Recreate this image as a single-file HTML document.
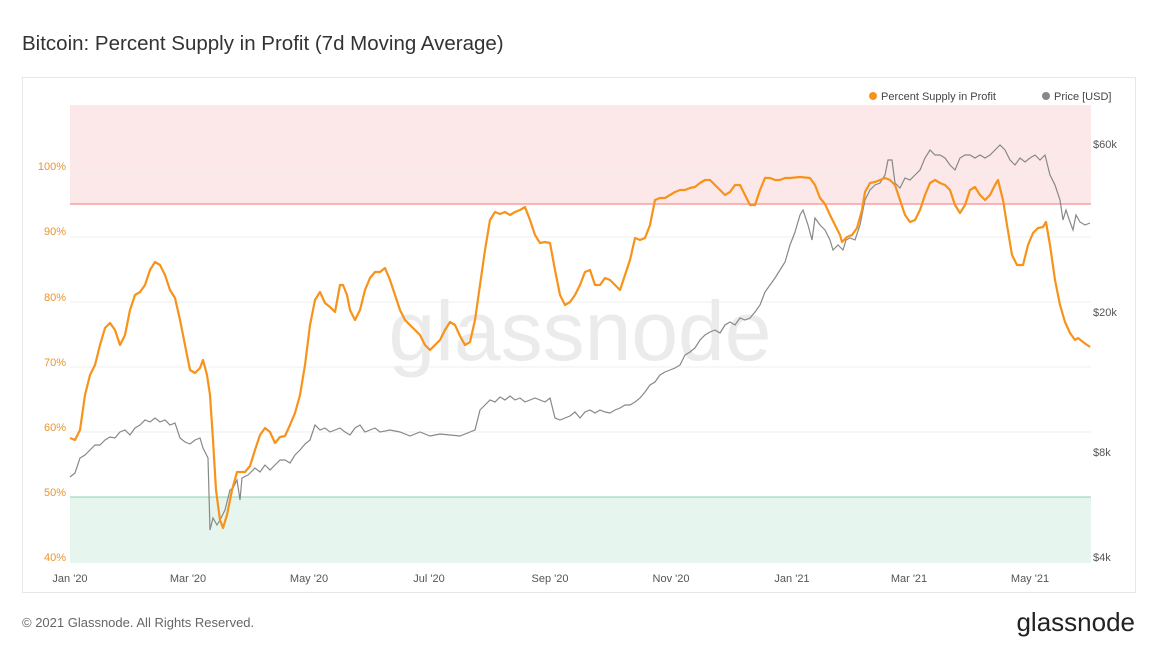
<!DOCTYPE html>
<html><head><meta charset="utf-8"><style>
body{margin:0;background:#fff;font-family:"Liberation Sans",sans-serif;}
</style></head><body>
<svg width="1159" height="652" xmlns="http://www.w3.org/2000/svg" font-family="Liberation Sans, sans-serif">
<rect width="1159" height="652" fill="#fff"/>
<text x="22" y="50" font-size="20.5" fill="#333">Bitcoin: Percent Supply in Profit (7d Moving Average)</text>
<rect x="22.5" y="77.5" width="1113" height="515" fill="#fff" stroke="#e6e6e6"/>
<rect x="70" y="105" width="1021" height="99" fill="#fce8e8"/>
<line x1="70" y1="204" x2="1091" y2="204" stroke="#f5a0a0" stroke-width="1.5"/>
<rect x="70" y="497" width="1021" height="66" fill="#e6f6ef"/>
<line x1="70" y1="497" x2="1091" y2="497" stroke="#8fd3b2" stroke-width="1"/>
<g stroke="#efefef" stroke-width="1">
<line x1="70" y1="172" x2="1091" y2="172"/><line x1="70" y1="237" x2="1091" y2="237"/>
<line x1="70" y1="302" x2="1091" y2="302"/><line x1="70" y1="367" x2="1091" y2="367"/>
<line x1="70" y1="432" x2="1091" y2="432"/>
</g>
<text x="580" y="360" font-size="84" fill="#ebebeb" text-anchor="middle">glassnode</text>
<g font-size="11" fill="#e8942f" text-anchor="end">
<text x="66" y="170">100%</text><text x="66" y="235">90%</text><text x="66" y="301">80%</text>
<text x="66" y="366">70%</text><text x="66" y="431">60%</text><text x="66" y="496">50%</text><text x="66" y="561">40%</text>
</g>
<g font-size="11" fill="#555">
<text x="1093" y="148">$60k</text><text x="1093" y="316">$20k</text><text x="1093" y="456">$8k</text><text x="1093" y="561">$4k</text>
</g>
<g font-size="11" fill="#555" text-anchor="middle">
<text x="70" y="582">Jan '20</text><text x="188" y="582">Mar '20</text><text x="309" y="582">May '20</text>
<text x="429" y="582">Jul '20</text><text x="550" y="582">Sep '20</text><text x="671" y="582">Nov '20</text>
<text x="792" y="582">Jan '21</text><text x="909" y="582">Mar '21</text><text x="1030" y="582">May '21</text>
</g>
<circle cx="873" cy="96" r="4" fill="#f7931a"/><text x="881" y="100" font-size="11" fill="#444">Percent Supply in Profit</text>
<circle cx="1046" cy="96" r="4" fill="#888"/><text x="1054" y="100" font-size="11" fill="#444">Price [USD]</text>
<polyline fill="none" stroke="#888" stroke-width="1.2" points="70,477 75,473 80,458 85,455 90,450 95,445 100,445 105,440 110,437 115,438 120,432 125,430 130,435 135,428 140,425 145,420 150,422 155,418 160,422 165,420 170,425 175,423 180,438 185,442 190,444 195,440 200,438 203,448 208,458 210,530 213,518 217,525 220,520 225,510 230,490 233,488 237,480 240,500 242,478 248,475 255,468 260,472 265,465 270,470 275,465 280,460 285,460 290,463 295,455 300,450 305,444 310,440 315,425 320,430 325,428 330,432 335,430 340,428 345,432 350,435 355,428 360,425 365,432 370,430 375,428 380,432 390,430 400,432 410,436 420,432 430,436 440,434 450,435 460,436 470,432 475,430 480,410 485,405 490,400 495,402 500,397 505,400 510,396 515,400 520,398 525,402 530,400 535,398 545,402 550,398 555,418 560,420 565,418 570,416 575,412 580,418 585,412 590,410 595,413 600,410 605,412 610,413 615,410 620,408 625,405 630,405 635,402 640,398 645,392 650,385 655,382 660,375 665,372 670,370 675,368 680,365 685,355 690,352 695,348 700,340 705,335 710,332 715,330 720,333 725,325 730,322 735,325 740,318 745,320 750,318 755,312 760,305 765,292 770,285 775,278 780,270 785,262 790,245 795,232 800,215 803,210 808,225 812,240 815,218 820,225 825,230 830,240 833,250 838,245 843,250 846,240 850,238 855,240 860,225 865,200 870,190 875,185 880,183 885,175 888,160 892,160 895,183 900,188 905,178 910,180 915,175 920,170 925,158 930,150 935,155 940,155 945,158 950,165 955,170 960,158 965,155 970,155 975,158 980,155 985,158 990,155 995,150 1000,145 1005,150 1010,160 1015,165 1020,158 1025,162 1030,158 1035,155 1040,160 1045,155 1050,175 1055,185 1060,200 1063,220 1066,210 1070,222 1073,230 1076,215 1080,222 1085,225 1090,223"/>
<polyline fill="none" stroke="#f7931a" stroke-width="2.2" stroke-linejoin="round" points="70,438 75,440 80,430 85,395 90,375 95,365 100,345 105,328 110,323 115,330 120,345 125,335 130,310 135,295 140,292 145,285 150,270 155,262 160,265 165,275 170,290 175,298 180,320 185,345 190,370 195,373 200,368 203,360 207,375 210,395 213,440 216,490 220,520 223,528 227,515 232,490 237,472 245,472 250,466 255,450 260,435 265,428 270,432 275,443 280,437 285,436 290,425 295,413 300,395 305,365 310,325 315,300 320,292 325,303 330,307 335,312 340,285 343,285 347,295 350,310 355,320 360,310 365,290 370,278 375,272 380,272 385,268 390,280 395,295 400,310 405,320 410,325 415,330 420,335 425,345 430,350 435,345 440,340 445,330 450,322 455,325 460,336 465,345 470,342 475,320 480,285 485,250 490,220 495,212 500,214 505,212 510,215 515,212 520,210 525,207 530,220 535,235 540,243 545,242 550,243 555,270 560,295 565,305 570,302 575,295 580,285 585,272 590,270 595,285 600,285 605,278 610,280 615,285 620,290 625,275 630,260 635,238 640,240 645,238 650,225 655,200 660,198 665,198 670,195 675,192 680,190 685,190 690,188 695,187 700,183 705,180 710,180 715,185 720,190 725,195 730,192 735,185 740,185 745,195 750,205 755,205 760,190 765,178 770,178 775,180 780,180 785,178 790,178 800,177 810,178 815,185 820,198 825,204 830,215 835,225 840,235 842,242 847,237 852,235 857,228 862,210 865,192 870,183 875,182 880,180 885,178 890,180 895,185 900,200 905,215 910,222 915,220 920,210 925,195 930,183 935,180 940,183 945,185 950,190 955,205 960,213 965,205 970,190 975,187 980,195 985,200 990,195 995,185 998,180 1003,200 1007,225 1012,255 1017,265 1023,265 1028,245 1033,233 1038,228 1043,227 1046,222 1050,245 1055,280 1060,305 1065,322 1070,333 1075,340 1078,338 1083,342 1090,347"/>
<text x="22" y="627" font-size="13" fill="#666">© 2021 Glassnode. All Rights Reserved.</text>
<text x="1135" y="631" font-size="26" fill="#222" text-anchor="end">glassnode</text>
</svg>
</body></html>
